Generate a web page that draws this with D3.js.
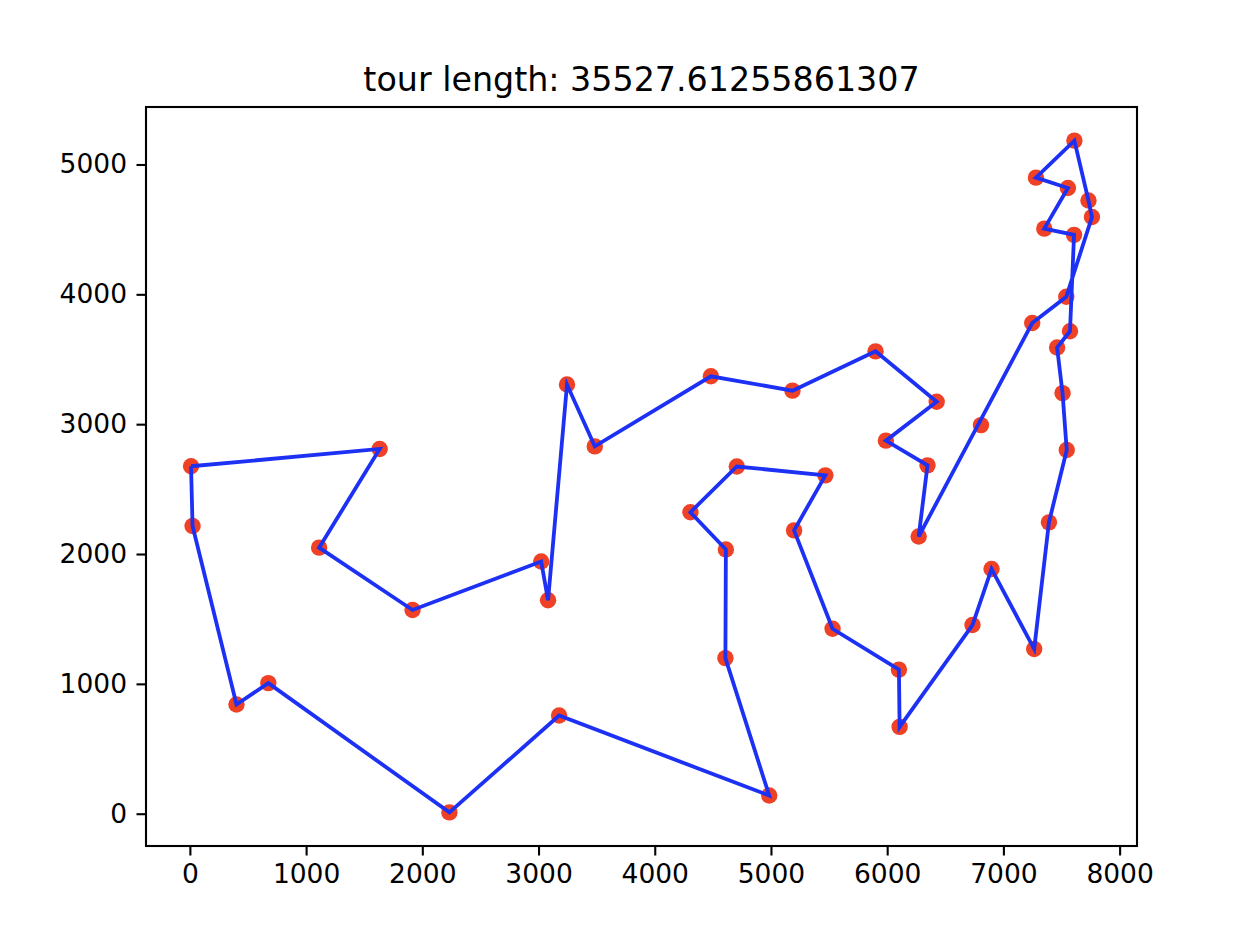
<!DOCTYPE html>
<html>
<head>
<meta charset="utf-8">
<script src="https://cdn.jsdelivr.net/npm/d3@7"></script>
<style>
  html, body { margin: 0; padding: 0; background: #fff; }
  svg { display: block; font-family: "DejaVu Sans", sans-serif; }
</style>
</head>
<body>
<svg id="chart"></svg>
<script>
// city coordinates
const cityX = [10, 1633, 1112, 1916, 3023, 3082, 3245, 3484, 4483, 5185, 5900, 6426, 5989, 6347, 6271,
  7248, 7541, 7762, 7732, 7611, 7280, 7555, 7352, 7608, 7573, 7462, 7509, 7545, 7392, 7265, 6898,
  6734, 6107, 6101, 5530, 5199, 5468, 4706, 4307, 4612, 4608, 4985, 3177, 2233, 675, 401, 23, 6807];
const cityY = [2676, 2809, 2049, 1569, 1942, 1644, 3305, 2829, 3369, 3258, 3561, 3173, 2873, 2683, 2135,
  3779, 3981, 4595, 4723, 5184, 4899, 4819, 4506, 4458, 3716, 3590, 3239, 2801, 2244, 1268, 1885,
  1453, 669, 1110, 1424, 2182, 2606, 2674, 2322, 2035, 1198, 140, 756, 10, 1006, 841, 2216, 2993];
// visiting order (indices into the city arrays); last city is not on the drawn tour
const tour = [0, 1, 2, 3, 4, 5, 6, 7, 8, 9, 10, 11, 12, 13, 14, 15, 16, 17, 18, 19, 20, 21, 22, 23,
  24, 25, 26, 27, 28, 29, 30, 31, 32, 33, 34, 35, 36, 37, 38, 39, 40, 41, 42, 43, 44, 45, 46, 0];
const xTicks = [0, 1000, 2000, 3000, 4000, 5000, 6000, 7000, 8000];
const yTicks = [0, 1000, 2000, 3000, 4000, 5000];
const tourLength = "35527.61255861307";

const width = 1250, height = 944;
const marginLeft = 146, marginRight = 1137, marginTop = 107, marginBottom = 846;

const svg = d3.select("#chart")
  .attr("width", width)
  .attr("height", height);

// matplotlib style 5% margins
const pad = ([a, b]) => [a - (b - a) * 0.05, b + (b - a) * 0.05];
const x = d3.scaleLinear(pad(d3.extent(cityX)), [marginLeft, marginRight]);
const y = d3.scaleLinear(pad(d3.extent(cityY)), [marginBottom, marginTop]);

const idx = d3.range(cityX.length);

svg.append("g")
  .selectAll("circle")
  .data(idx)
  .join("circle")
  .attr("cx", i => x(cityX[i]))
  .attr("cy", i => y(cityY[i]))
  .attr("r", 8.2)
  .attr("fill", "#ee4125");

const line = d3.line()
  .x(i => x(cityX[i]))
  .y(i => y(cityY[i]));

svg.append("path")
  .attr("d", line(tour))
  .attr("fill", "none")
  .attr("stroke", "#1c31f4")
  .attr("stroke-width", 3.8)
  .attr("stroke-linejoin", "miter");

// axes
const xAxis = d3.axisBottom(x).tickValues(xTicks).tickSize(9.5).tickPadding(9).tickFormat(d3.format("d"));
const yAxis = d3.axisLeft(y).tickValues(yTicks).tickSize(9.5).tickPadding(9.5).tickFormat(d3.format("d"));

svg.append("g")
  .attr("transform", `translate(0,${marginBottom})`)
  .call(xAxis)
  .call(g => g.select(".domain").remove());

svg.append("g")
  .attr("transform", `translate(${marginLeft},0)`)
  .call(yAxis)
  .call(g => g.select(".domain").remove());

svg.selectAll(".tick line").attr("stroke", "#000").attr("stroke-width", 2.1);
svg.selectAll(".tick text")
  .attr("fill", "#000")
  .style("font-family", "DejaVu Sans")
  .style("font-size", "26.5px");

svg.append("rect")
  .attr("x", marginLeft).attr("y", marginTop)
  .attr("width", marginRight - marginLeft).attr("height", marginBottom - marginTop)
  .attr("fill", "none")
  .attr("stroke", "#000")
  .attr("stroke-width", 2.1);

svg.append("text")
  .attr("x", (marginLeft + marginRight) / 2)
  .attr("y", marginTop - 16)
  .attr("text-anchor", "middle")
  .style("font-size", "33.3px")
  .text("tour length: " + tourLength);
</script>
</body>
</html>
